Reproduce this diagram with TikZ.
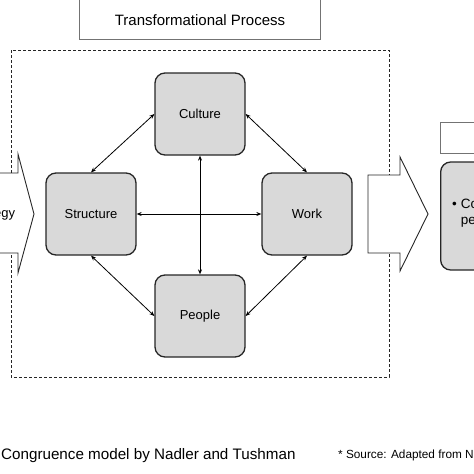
\documentclass[tikz,border=0pt]{standalone}
\usepackage{fontspec}
\setmainfont{Liberation Sans}
\usetikzlibrary{arrows.meta}
\begin{document}
\begin{tikzpicture}[x=1pt,y=-1pt,
    comp/.style={draw=black!85,fill=black!15,rounded corners=10pt,line width=1.3pt,
        minimum width=90pt,minimum height=82pt,font=\fontsize{13}{15}\selectfont},
    link/.style={{Stealth[length=5pt,width=4pt]}-{Stealth[length=5pt,width=4pt]},line width=0.8pt},
    flow/.style={draw=black!85,fill=white,line width=0.9pt},
    plain/.style={draw=black!55,line width=0.9pt}]
\useasboundingbox (0,0) rectangle (474,474);
% transformational process
\draw[plain] (79,-5) rectangle (320,39);
\node[font=\fontsize{15}{18}\selectfont] (title) at (200,20) {Transformational Process};
\draw[dashed,dash pattern=on 3pt off 2pt,line width=0.9pt,draw=black!85] (11,50) rectangle (389,377);
% input and output arrows
\draw[flow] (-10,173) -- (18,173) -- (18,154) -- (34,214) -- (18,273) -- (18,253) -- (-10,253) -- cycle;
\node[font=\fontsize{13}{15}\selectfont] (strategy) at (-9,214) {Strategy};
\draw[flow] (368,175) -- (400,175) -- (400,157) -- (428,214) -- (400,271) -- (400,253) -- (368,253) -- cycle;
\node[comp] (culture) at (200,114) {Culture};
\node[comp] (structure) at (91,214) {Structure};
\node[comp] (work) at (307,214) {Work};
\node[comp] (people) at (200,316) {People};
\foreach \a/\b in {culture.west/structure.north, culture.east/work.north,
    structure.south/people.west, people.east/work.south,
    culture.south/people.north, structure.east/work.west}
    \draw[link] (\a) -- (\b);
% output
\node[plain,anchor=north west,minimum width=60pt,minimum height=31pt] (outhead) at (440,122) {};
\node[comp,anchor=west,minimum width=80pt,minimum height=108pt] (outbox) at (440,216) {};
\node[anchor=north west,inner sep=0pt,font=\fontsize{13.5}{16}\selectfont] (outtext) at (452,197)
    {\begin{tabular}{@{}l@{\hspace{4pt}}l@{}}\textbullet & Corporate\\ & performance\end{tabular}};
% captions
\node[anchor=west,inner sep=0pt,font=\fontsize{15.2}{18}\selectfont] (caption) at (1,456) {Congruence model by Nadler and Tushman};
\node[anchor=west,inner sep=0pt,font=\fontsize{11.8}{14}\selectfont] (source) at (338,455) {* Source: Adapted from Nadler and Tushman};
\end{tikzpicture}
\end{document}
